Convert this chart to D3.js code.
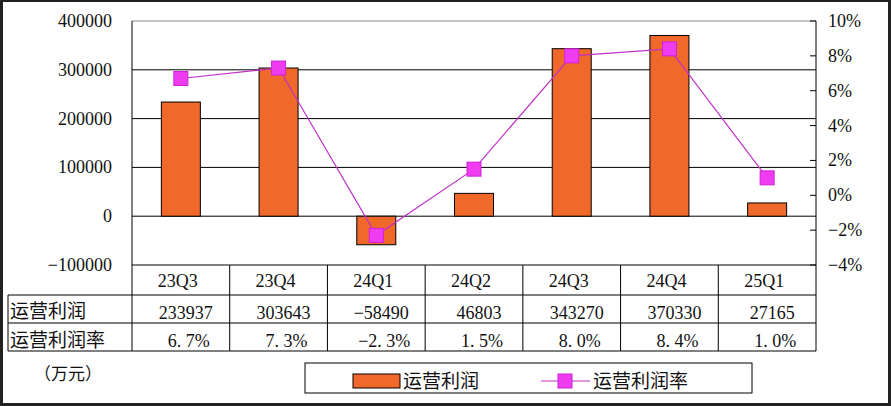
<!DOCTYPE html>
<html><head><meta charset="utf-8">
<script src="https://cdn.jsdelivr.net/npm/d3@7/dist/d3.min.js"></script>
<style>body{margin:0;background:#fff}svg{display:block}text{font-family:"Liberation Serif","Noto Sans CJK SC",serif;fill:#111}</style>
</head><body><svg id="c" width="891" height="406"></svg>
<script>
const categories=["23Q3","23Q4","24Q1","24Q2","24Q3","24Q4","25Q1"];
const profit=[233937,303643,-58490,46803,343270,370330,27165];
const rate=[6.7,7.3,-2.3,1.5,8.0,8.4,1.0];
const rateLabels=["6.7%","7.3%","-2.3%","1.5%","8.0%","8.4%","1.0%"];
const leftTicks=[-100000,0,100000,200000,300000,400000];
const rightTicks=[-4,-2,0,2,4,6,8,10];
const svg=d3.select("#c");
svg.append("rect").attr("x",1.5).attr("y",0.5).attr("width",888).attr("height",404).attr("fill","#fff").attr("stroke","#222").attr("stroke-width",3);
const L=132,R=816,T=21,B=265;
const x=d3.scaleBand().domain(categories).range([L,R]);
const y=d3.scaleLinear().domain([-100000,400000]).range([B,T]);
const y2=d3.scaleLinear().domain([-4,10]).range([B,T]);
// grid
svg.append("g").selectAll("line").data(leftTicks.filter(d=>d>-100000)).join("line")
 .attr("x1",L).attr("x2",R).attr("y1",d=>y(d)).attr("y2",d=>y(d))
 .attr("stroke",d=>d==400000?"#888":"#000").attr("stroke-width",1);
svg.append("line").attr("x1",L).attr("x2",L).attr("y1",T).attr("y2",351).attr("stroke","#000");
svg.append("line").attr("x1",R).attr("x2",R).attr("y1",T).attr("y2",351).attr("stroke","#000");
// left axis labels
svg.append("g").selectAll("text").data(leftTicks).join("text")
 .attr("x",112).attr("y",d=>y(d)+6).attr("text-anchor","end").attr("font-size",18).text(d=>d<0?"−"+Math.abs(d):d);
// right axis
svg.append("g").selectAll("line").data(rightTicks).join("line")
 .attr("x1",R-6).attr("x2",R).attr("y1",d=>y2(d)).attr("y2",d=>y2(d)).attr("stroke","#000");
svg.append("g").selectAll("text").data(rightTicks).join("text")
 .attr("x",828).attr("y",d=>y2(d)+6).attr("font-size",18).text(d=>(d<0?"−"+Math.abs(d):d)+"%");
// bars
const bw=39;
svg.append("g").selectAll("rect").data(profit).join("rect")
 .attr("x",(d,i)=>x(categories[i])+x.bandwidth()/2-bw/2).attr("width",bw)
 .attr("y",d=>y(Math.max(0,d))).attr("height",d=>Math.abs(y(d)-y(0)))
 .attr("fill","#F0692A").attr("stroke","#000").attr("stroke-width",1);
// line
const cx=i=>x(categories[i])+x.bandwidth()/2;
svg.append("path").datum(rate).attr("fill","none").attr("stroke","#C030C8").attr("stroke-width",1.2)
 .attr("d",d3.line().x((d,i)=>cx(i)).y(d=>y2(d)));
svg.append("g").selectAll("rect").data(rate).join("rect")
 .attr("x",(d,i)=>cx(i)-7).attr("y",d=>y2(d)-7).attr("width",14).attr("height",14)
 .attr("fill","#F03CF0").attr("stroke","#D020D8");
// table
const tb=svg.append("g").attr("stroke","#000").attr("stroke-width",1);
[265,295,323,351].forEach(v=>tb.append("line").attr("x1",v==265?L:8).attr("x2",R).attr("y1",v).attr("y2",v));
tb.append("line").attr("x1",8).attr("x2",8).attr("y1",295).attr("y2",351);
categories.forEach((c,i)=>{if(i>0)tb.append("line").attr("x1",x(c)).attr("x2",x(c)).attr("y1",265).attr("y2",351);});
svg.append("g").selectAll("text").data(categories).join("text").attr("x",d=>x(d)+x.bandwidth()/2-3).attr("y",287).attr("text-anchor","middle").attr("font-size",18).text(d=>d);
svg.append("g").selectAll("text").data(profit).join("text").attr("x",(d,i)=>cx(i)+5).attr("y",319).attr("text-anchor","middle").attr("font-size",18).text(d=>d<0?"−"+Math.abs(d):d);
svg.append("g").selectAll("text").data(rateLabels).join("text").attr("x",(d,i)=>cx(i)+8).attr("y",347).attr("text-anchor","middle").attr("font-size",18).text(d=>d.replace("-","−").replace(".",". "));
svg.append("text").attr("x",10).attr("y",318).attr("font-size",19).text("运营利润");
svg.append("text").attr("x",10).attr("y",347).attr("font-size",19).text("运营利润率");
svg.append("text").attr("x",34).attr("y",380).attr("font-size",17).text("（万元）");
// legend
svg.append("rect").attr("x",305).attr("y",363).attr("width",447).attr("height",30).attr("fill","#fff").attr("stroke","#000");
svg.append("rect").attr("x",353).attr("y",374).attr("width",47).attr("height",14).attr("fill","#F0692A").attr("stroke","#000");
svg.append("text").attr("x",403).attr("y",388).attr("font-size",19).text("运营利润");
svg.append("line").attr("x1",541).attr("x2",590).attr("y1",381).attr("y2",381).attr("stroke","#C030C8").attr("stroke-width",1.2);
svg.append("rect").attr("x",558).attr("y",374).attr("width",14).attr("height",14).attr("fill","#F03CF0").attr("stroke","#D020D8");
svg.append("text").attr("x",593).attr("y",388).attr("font-size",19).text("运营利润率");
</script></body></html>
